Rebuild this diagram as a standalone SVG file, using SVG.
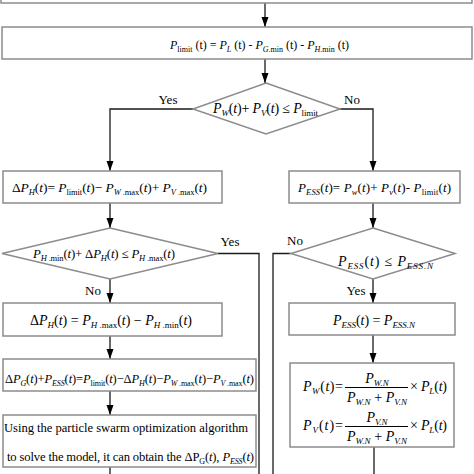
<svg xmlns="http://www.w3.org/2000/svg" width="474" height="474" viewBox="0 0 474 474" font-family="'Liberation Serif', 'Times New Roman', serif">
<style>
text{font-family:"Liberation Serif","Times New Roman",serif;fill:#000}
.i{font-style:italic}
.box{fill:#fff;stroke:#8c8c8c;stroke-width:1.5}
.con{fill:none;stroke:#1a1a1a;stroke-width:1.3}
.lbl{font-size:13px}
</style>
<defs>
<marker id="ah" viewBox="0 0 10 10" refX="10" refY="5" markerWidth="10" markerHeight="10" markerUnits="userSpaceOnUse" orient="auto"><path d="M0,1.5 L10,5 L0,8.5 z" fill="#000"/></marker>
</defs>
<rect width="474" height="474" fill="#fff"/>

<g id="connectors">
<path class="con" d="M265,3 V27" marker-end="url(#ah)"/>
<path class="con" d="M265,59 V83" marker-end="url(#ah)"/>
<path class="con" d="M193,109 H110 V171" marker-end="url(#ah)"/>
<path class="con" d="M340,109 H373 V171" marker-end="url(#ah)"/>
<path class="con" d="M110,203 V228" marker-end="url(#ah)"/>
<path class="con" d="M373,203 V228" marker-end="url(#ah)"/>
<path class="con" d="M218,253.5 H259 V474"/>
<path class="con" d="M291,253.5 H273 V474"/>
<path class="con" d="M110,279 V303" marker-end="url(#ah)"/>
<path class="con" d="M373,279 V303" marker-end="url(#ah)"/>
<path class="con" d="M110,336 V359" marker-end="url(#ah)"/>
<path class="con" d="M373,335 V363" marker-end="url(#ah)"/>
<path class="con" d="M110,391 V415" marker-end="url(#ah)"/>
<path class="con" d="M110,467 V474"/>
<path class="con" d="M374,447 V474"/>
<text class="lbl" x="168" y="104" text-anchor="middle">Yes</text>
<text class="lbl" x="352" y="104" text-anchor="middle">No</text>
<text class="lbl" x="230" y="246" text-anchor="middle">Yes</text>
<text class="lbl" x="295" y="245" text-anchor="middle">No</text>
<text class="lbl" x="93" y="295" text-anchor="middle">No</text>
<text class="lbl" x="356" y="295" text-anchor="middle">Yes</text>
</g>

<g id="top">
<rect class="box" x="1" y="-10" width="471" height="13"/>
</g>

<g id="plimit">
<rect class="box" x="2" y="27" width="470" height="32"/>
<text x="170" y="49" font-size="12" textLength="179"><tspan class="i">P</tspan><tspan font-size="8" dy="3">limit</tspan><tspan dy="-3"> (t) = </tspan><tspan class="i">P</tspan><tspan class="i" font-size="8" dy="3">L</tspan><tspan dy="-3"> (t) - </tspan><tspan class="i">P</tspan><tspan class="i" font-size="8" dy="3">G</tspan><tspan font-size="8">.min</tspan><tspan dy="-3"> (t) - </tspan><tspan class="i">P</tspan><tspan class="i" font-size="8" dy="3">H</tspan><tspan font-size="8">.min</tspan><tspan dy="-3"> (t)</tspan></text>
</g>

<g id="dec1">
<polygon class="box" points="266,83 340,109 266,134 193,109"/>
<text x="213" y="113" font-size="14" textLength="105"><tspan class="i">P</tspan><tspan class="i" font-size="9" dy="3">W</tspan><tspan dy="-3">(</tspan><tspan class="i">t</tspan><tspan>)+ </tspan><tspan class="i">P</tspan><tspan class="i" font-size="9" dy="3">V</tspan><tspan dy="-3">(</tspan><tspan class="i">t</tspan><tspan>) ≤ </tspan><tspan class="i">P</tspan><tspan font-size="9" dy="3">limit</tspan></text>
</g>

<g id="dph">
<rect class="box" x="3" y="171" width="219" height="32"/>
<text x="12" y="192" font-size="13.5" textLength="195"><tspan>Δ</tspan><tspan class="i">P</tspan><tspan class="i" font-size="8.5" dy="3">H</tspan><tspan dy="-3">(</tspan><tspan class="i">t</tspan><tspan>)= </tspan><tspan class="i">P</tspan><tspan font-size="8.5" dy="3">limit</tspan><tspan dy="-3">(</tspan><tspan class="i">t</tspan><tspan>)− </tspan><tspan class="i">P</tspan><tspan class="i" font-size="8.5" dy="3">W</tspan><tspan font-size="8.5"> .max</tspan><tspan dy="-3">(</tspan><tspan class="i">t</tspan><tspan>)+ </tspan><tspan class="i">P</tspan><tspan class="i" font-size="8.5" dy="3">V</tspan><tspan font-size="8.5"> .max</tspan><tspan dy="-3">(</tspan><tspan class="i">t</tspan><tspan>)</tspan></text>
</g>

<g id="pess">
<rect class="box" x="289" y="171" width="171" height="32"/>
<text x="298" y="192" font-size="13" textLength="153"><tspan class="i">P</tspan><tspan class="i" font-size="8.5" dy="3">ESS</tspan><tspan dy="-3">(</tspan><tspan class="i">t</tspan><tspan>)= </tspan><tspan class="i">P</tspan><tspan class="i" font-size="8.5" dy="3">w</tspan><tspan dy="-3">(</tspan><tspan class="i">t</tspan><tspan>)+ </tspan><tspan class="i">P</tspan><tspan class="i" font-size="8.5" dy="3">v</tspan><tspan dy="-3">(</tspan><tspan class="i">t</tspan><tspan>)- </tspan><tspan class="i">P</tspan><tspan font-size="8.5" dy="3">limit</tspan><tspan dy="-3">(</tspan><tspan class="i">t</tspan><tspan>)</tspan></text>
</g>

<g id="dec2">
<polygon class="box" points="110,228 218,253.5 110,279 2,253.5"/>
<text x="33" y="258" font-size="12.8" textLength="142"><tspan class="i">P</tspan><tspan class="i" font-size="8.5" dy="3">H</tspan><tspan font-size="8.5"> .min</tspan><tspan dy="-3">(</tspan><tspan class="i">t</tspan><tspan>)+ Δ</tspan><tspan class="i">P</tspan><tspan class="i" font-size="8.5" dy="3">H</tspan><tspan dy="-3">(</tspan><tspan class="i">t</tspan><tspan>) ≤ </tspan><tspan class="i">P</tspan><tspan class="i" font-size="8.5" dy="3">H</tspan><tspan font-size="8.5"> .max</tspan><tspan dy="-3">(</tspan><tspan class="i">t</tspan><tspan>)</tspan></text>
</g>

<g id="dec3">
<polygon class="box" points="373,228 455,253.5 373,279 291,253.5"/>
<text x="338" y="266" font-size="14" textLength="95"><tspan class="i">P</tspan><tspan class="i" font-size="9" dy="3">ESS</tspan><tspan dy="-3">(</tspan><tspan class="i">t</tspan><tspan>) ≤ </tspan><tspan class="i">P</tspan><tspan class="i" font-size="9" dy="3">ESS.N</tspan></text>
</g>

<g id="dph2">
<rect class="box" x="3" y="303" width="219" height="33"/>
<text x="30" y="325" font-size="14" textLength="162"><tspan>Δ</tspan><tspan class="i">P</tspan><tspan class="i" font-size="9" dy="3">H</tspan><tspan dy="-3">(</tspan><tspan class="i">t</tspan><tspan>) = </tspan><tspan class="i">P</tspan><tspan class="i" font-size="9" dy="3">H</tspan><tspan font-size="9"> .max</tspan><tspan dy="-3">(</tspan><tspan class="i">t</tspan><tspan>) − </tspan><tspan class="i">P</tspan><tspan class="i" font-size="9" dy="3">H</tspan><tspan font-size="9"> .min</tspan><tspan dy="-3">(</tspan><tspan class="i">t</tspan><tspan>)</tspan></text>
</g>

<g id="pess2">
<rect class="box" x="289" y="303" width="166" height="32"/>
<text x="333" y="325" font-size="14" textLength="82"><tspan class="i">P</tspan><tspan class="i" font-size="9" dy="3">ESS</tspan><tspan dy="-3">(</tspan><tspan class="i">t</tspan><tspan>) = </tspan><tspan class="i">P</tspan><tspan class="i" font-size="9" dy="3">ESS.N</tspan></text>
</g>

<g id="dpg">
<rect class="box" x="3" y="359" width="253" height="32"/>
<text x="5" y="383" font-size="12.5" textLength="249"><tspan>Δ</tspan><tspan class="i">P</tspan><tspan class="i" font-size="8" dy="3">G</tspan><tspan dy="-3">(</tspan><tspan class="i">t</tspan><tspan>)+</tspan><tspan class="i">P</tspan><tspan class="i" font-size="8" dy="3">ESS</tspan><tspan dy="-3">(</tspan><tspan class="i">t</tspan><tspan>)=</tspan><tspan class="i">P</tspan><tspan font-size="8" dy="3">limit</tspan><tspan dy="-3">(</tspan><tspan class="i">t</tspan><tspan>)−Δ</tspan><tspan class="i">P</tspan><tspan class="i" font-size="8" dy="3">H</tspan><tspan dy="-3">(</tspan><tspan class="i">t</tspan><tspan>)−</tspan><tspan class="i">P</tspan><tspan class="i" font-size="8" dy="3">W</tspan><tspan font-size="8"> .max</tspan><tspan dy="-3">(</tspan><tspan class="i">t</tspan><tspan>)−</tspan><tspan class="i">P</tspan><tspan class="i" font-size="8" dy="3">V</tspan><tspan font-size="8"> .max</tspan><tspan dy="-3">(</tspan><tspan class="i">t</tspan><tspan>)</tspan></text>
</g>

<g id="pso">
<rect class="box" x="3" y="415" width="253" height="52"/>
<text x="4" y="432" font-size="12.6" textLength="244">Using the particle swarm optimization algorithm</text>
<text x="7" y="461" font-size="12.6" textLength="247"><tspan>to solve the model, it can obtain the ΔP</tspan><tspan font-size="8" dy="3">G</tspan><tspan dy="-3">(</tspan><tspan class="i">t</tspan><tspan>), </tspan><tspan class="i">P</tspan><tspan class="i" font-size="8" dy="3">ESS</tspan><tspan dy="-3">(</tspan><tspan class="i">t</tspan><tspan>)</tspan></text>
</g>

<g id="ratio">
<rect class="box" x="290" y="363" width="164" height="84"/>
<text x="303" y="391" font-size="14" textLength="40"><tspan class="i">P</tspan><tspan class="i" font-size="9" dy="3">W</tspan><tspan dy="-3">(</tspan><tspan class="i">t</tspan><tspan>)=</tspan></text>
<text x="377" y="383" font-size="14" text-anchor="middle"><tspan class="i">P</tspan><tspan class="i" font-size="9" dy="3">W.N</tspan></text>
<line x1="345" y1="387.5" x2="408" y2="387.5" stroke="#000" stroke-width="1"/>
<text x="347" y="402" font-size="14" textLength="60"><tspan class="i">P</tspan><tspan class="i" font-size="9" dy="3">W.N</tspan><tspan dy="-3"> + </tspan><tspan class="i">P</tspan><tspan class="i" font-size="9" dy="3">V.N</tspan></text>
<text x="410" y="391" font-size="14" textLength="37"><tspan>× </tspan><tspan class="i">P</tspan><tspan class="i" font-size="9" dy="3">L</tspan><tspan dy="-3">(</tspan><tspan class="i">t</tspan><tspan>)</tspan></text>
<text x="303" y="430" font-size="14" textLength="40"><tspan class="i">P</tspan><tspan class="i" font-size="9" dy="3">V</tspan><tspan dy="-3">(</tspan><tspan class="i">t</tspan><tspan>)=</tspan></text>
<text x="377" y="422" font-size="14" text-anchor="middle"><tspan class="i">P</tspan><tspan class="i" font-size="9" dy="3">V.N</tspan></text>
<line x1="345" y1="426.5" x2="408" y2="426.5" stroke="#000" stroke-width="1"/>
<text x="347" y="441" font-size="14" textLength="60"><tspan class="i">P</tspan><tspan class="i" font-size="9" dy="3">W.N</tspan><tspan dy="-3"> + </tspan><tspan class="i">P</tspan><tspan class="i" font-size="9" dy="3">V.N</tspan></text>
<text x="410" y="430" font-size="14" textLength="37"><tspan>× </tspan><tspan class="i">P</tspan><tspan class="i" font-size="9" dy="3">L</tspan><tspan dy="-3">(</tspan><tspan class="i">t</tspan><tspan>)</tspan></text>
</g>
</svg>
